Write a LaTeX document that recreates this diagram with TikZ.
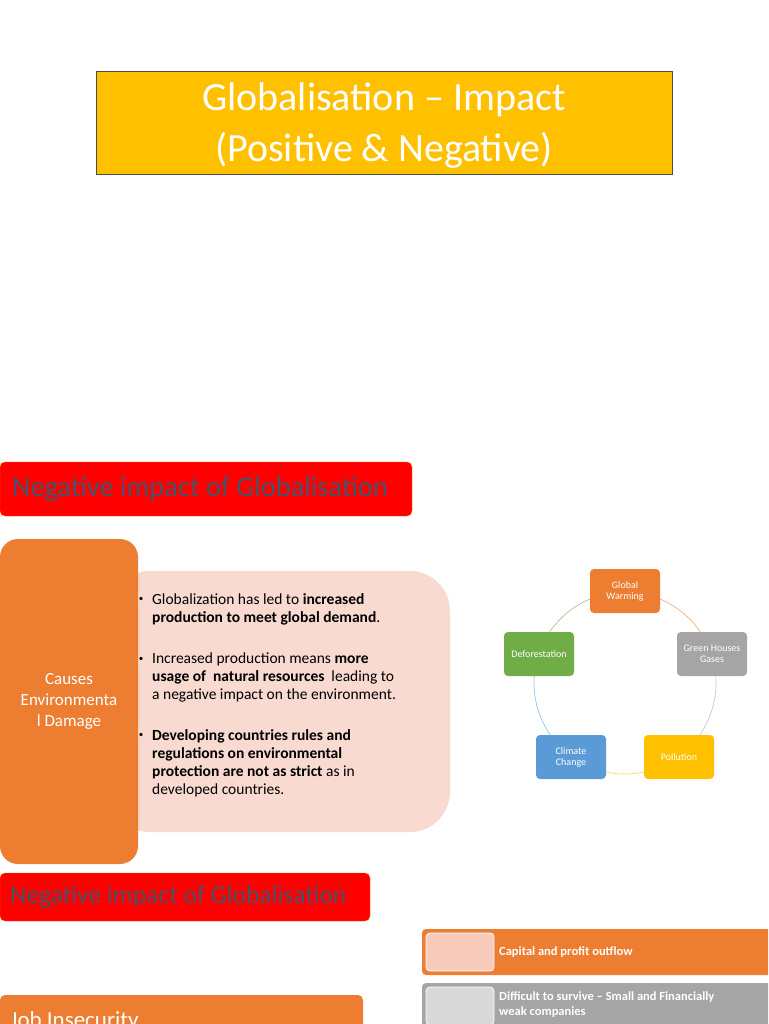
\documentclass[tikz,border=0pt]{standalone}
\usepackage{fontspec}
\setmainfont{Carlito}
\begin{document}
\begin{tikzpicture}[x=1pt,y=-1pt,
  cyc/.style={rounded corners=4pt,minimum width=70pt,minimum height=44pt,text=white,font=\fontsize{10}{11}\selectfont,align=center,inner sep=1pt},
  redbox/.style={fill=red,draw=orange!80!red,rounded corners=5pt},
  redtxt/.style={text=black!55!blue!40!gray,anchor=west,inner sep=0pt},
  bul/.style={anchor=north west,align=left,inner sep=0pt,font=\fontsize{15.5}{18}\selectfont}]
\useasboundingbox (0,0) rectangle (768,1024);
\clip (0,0) rectangle (768,1024);
\definecolor{gold}{HTML}{FFC000}
\definecolor{org}{HTML}{ED7D31}
\definecolor{pinkf}{HTML}{F9DAD0}
\definecolor{pinki}{HTML}{F8CBBD}
\definecolor{gr}{HTML}{A5A5A5}
\definecolor{bl}{HTML}{5B9BD5}
\definecolor{gn}{HTML}{70AD47}
\definecolor{tx}{HTML}{44546A}
% title
\node[draw=black!70,fill=gold,minimum width=576pt,minimum height=103pt] (titlebox) at (384,122.5) {};
\node[text=white,align=center,font=\fontsize{40}{51}\selectfont] (title) at (384,125.5) {Globalisation -- Impact\\(Positive \& Negative)};
% red 1
\draw[redbox] (0,462) rectangle (412,516);
\node[redtxt,text=tx,font=\fontsize{28.5}{30}\selectfont] (r1) at (12,489) {Negative impact of Globalisation};
% pink box
\fill[pinkf,rounded corners=40pt] (110,571) rectangle (450,832);
\fill[org,rounded corners=18pt] (0,539) rectangle (138,864);
\node[text=white,align=center,font=\fontsize{17}{21}\selectfont] (cause) at (69,701) {Causes\\Environmenta\\l Damage};
\foreach \y in {593,653,729} \node[font=\small] at (141,\y+6) {\textbullet};
\node[bul] (b1) at (152,593) {Globalization has led to \textbf{increased}\\\textbf{production to meet global demand}.};
\node[bul] (b2) at (152,653) {Increased production means \textbf{more}\\\textbf{usage of\ \ natural resources}\ \ leading to\\a negative impact on the environment.};
\node[bul] (b3) at (152,729) {\textbf{Developing countries rules and}\\\textbf{regulations on environmental}\\\textbf{protection are not as strict} as in\\developed countries.};
% cycle
\def\cx{625}\def\cy{683}\def\R{91}
\foreach \a/\b/\c in {18/90/org,-54/18/gr,-126/-54/gold,-198/-126/bl,90/162/gn}
  \draw[\c!70,line width=0.6pt] plot[domain=\a:\b,samples=40] ({\cx+\R*cos(\x)},{\cy-\R*sin(\x)});
\node[cyc,fill=org] (gw) at (625,591) {Global\\Warming};
\node[cyc,fill=gr] (gh) at (712,654) {Green Houses\\Gases};
\node[cyc,fill=gold] (pol) at (679,757) {Pollution};
\node[cyc,fill=bl] (cc) at (571,757) {Climate\\Change};
\node[cyc,fill=gn] (def) at (539,654) {Deforestation};
% red 2
\draw[redbox] (0,873) rectangle (370,921);
\node[redtxt,text=tx,font=\fontsize{25.5}{28}\selectfont] (r2) at (10,897) {Negative impact of Globalisation};
% right boxes
\fill[org,rounded corners=4pt] (422,929) rectangle (772,975);
\draw[white,fill=pinki,rounded corners=4pt,line width=0.8pt] (426,933) rectangle (494,971);
\node[anchor=west,text=white,font=\bfseries\fontsize{12.5}{14}\selectfont,inner sep=0pt] (cap) at (499,952) {Capital and profit outflow};
\fill[gr,rounded corners=4pt] (422,983) rectangle (772,1030);
\draw[white,fill=black!15,rounded corners=4pt,line width=0.8pt] (426,987) rectangle (494,1025);
\node[anchor=west,align=left,text=white,font=\bfseries\fontsize{12.5}{15}\selectfont,inner sep=0pt] (dif) at (499,1005) {Difficult to survive -- Small and Financially\\weak companies};
% job insecurity
\fill[org,rounded corners=5pt] (0,995) rectangle (363,1040);
\node[anchor=west,text=white,font=\fontsize{23}{26}\selectfont,inner sep=0pt] (job) at (10,1021) {Job Insecurity};
\end{tikzpicture}
\end{document}
